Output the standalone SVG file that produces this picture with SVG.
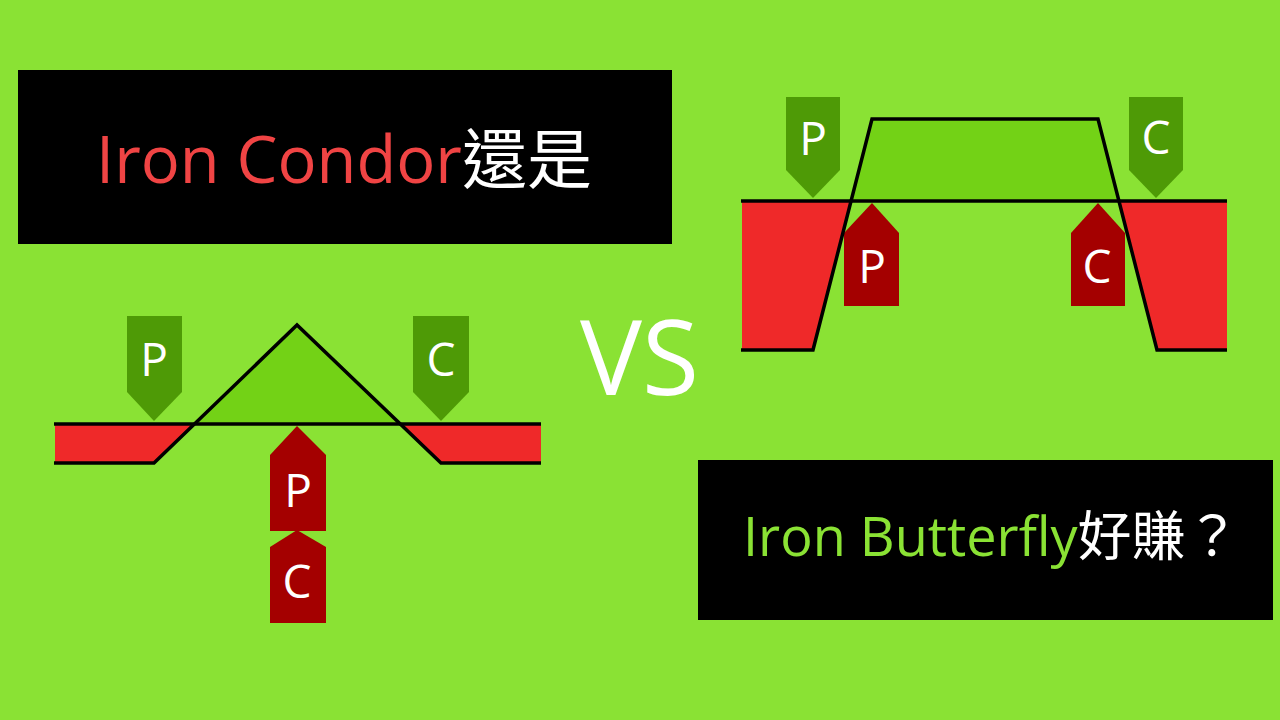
<svg xmlns="http://www.w3.org/2000/svg" width="1280" height="720" viewBox="0 0 1280 720">
<defs>
<style>
.bg{fill:#8ae234}
.box{fill:#000000}
.loss{fill:#ef2929}
.gain{fill:#73d216}
.ga{fill:#4e9a06}
.ra{fill:#a40000}
.ln{fill:none;stroke:#000000;stroke-width:3.5;stroke-linejoin:miter;stroke-linecap:butt}
.lbl{font-family:"Open Sans","Noto Sans",sans-serif;font-size:46px;fill:#ffffff;text-anchor:middle}
.title{font-family:"Open Sans","Noto Sans","Noto Sans CJK TC",sans-serif}
</style>
</defs>
<rect class="bg" x="0" y="0" width="1280" height="720"/>

<g id="title-condor">
<rect class="box" x="18" y="70" width="654" height="174"/>
<text class="title" x="96" y="183" font-size="65"><tspan fill="#f04444">Iron Condor</tspan><tspan fill="#ffffff" font-family="'Noto Sans CJK TC',sans-serif">還是</tspan></text>
</g>

<g id="title-butterfly">
<rect class="box" x="698" y="460" width="575" height="160"/>
<text class="title" x="743" y="556" font-size="54"><tspan fill="#8ae234">Iron Butterfly</tspan><tspan fill="#ffffff" font-family="'Noto Sans CJK TC',sans-serif">好賺？</tspan></text>
</g>

<g id="vs">
<text x="580" y="395" font-family="'Open Sans','Noto Sans',sans-serif" font-size="104" fill="#ffffff">VS</text>
</g>

<g id="iron-condor">
<polygon class="loss" points="55,424 194,424 154,463 55,463"/>
<polygon class="loss" points="400,424 541,424 541,463 441,463"/>
<polygon class="gain" points="194,424 297,325 400,424"/>
<g id="condor-short-put">
<polygon class="ra" points="297,426 326,455 326,531 270,531 270,455"/>
<text class="lbl" x="298" y="507">P</text>
</g>
<g id="condor-short-call">
<polygon class="ra" points="297,530 326,547 326,623 270,623 270,547"/>
<text class="lbl" x="297" y="598">C</text>
</g>
<g id="condor-long-put">
<polygon class="ga" points="127,316 182,316 182,392 154,421 127,392"/>
<text class="lbl" x="154" y="376">P</text>
</g>
<g id="condor-long-call">
<polygon class="ga" points="413,316 469,316 469,392 441,421 413,392"/>
<text class="lbl" x="441" y="376">C</text>
</g>
</g>

<g id="iron-butterfly">
<polygon class="loss" points="742,201 851,201 813,350 742,350"/>
<polygon class="loss" points="1119,201 1227,201 1227,350 1157,350"/>
<polygon class="gain" points="851,201 872,119 1098,119 1119,201"/>
<g id="fly-long-put">
<polygon class="ga" points="786,97 840,97 840,170 813,198 786,170"/>
<text class="lbl" x="813" y="155">P</text>
</g>
<g id="fly-long-call">
<polygon class="ga" points="1129,97 1183,97 1183,170 1156,198 1129,170"/>
<text class="lbl" x="1156" y="154">C</text>
</g>
<g id="fly-short-put">
<polygon class="ra" points="872,203 899,233 899,306 844,306 844,233"/>
<text class="lbl" x="872" y="283">P</text>
</g>
<g id="fly-short-call">
<polygon class="ra" points="1098,203 1125,233 1125,306 1071,306 1071,233"/>
<text class="lbl" x="1097" y="283">C</text>
</g>
</g>

<g id="connectors">
<polyline class="ln" points="54,424 541,424"/>
<polyline class="ln" points="54,463 154,463 297,325 441,463 541,463"/>
<polyline class="ln" points="741,201 1227,201"/>
<polyline class="ln" points="741,350 813,350 872,119 1098,119 1157,350 1227,350"/>
</g>
</svg>
